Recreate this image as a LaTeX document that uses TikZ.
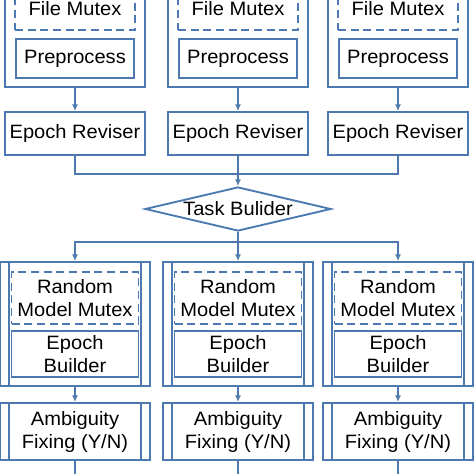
\documentclass[tikz,border=0pt]{standalone}
\usepackage{fontspec}
\setmainfont{Liberation Sans}[FakeStretch=1.04]
\usetikzlibrary{arrows.meta,shapes.geometric}

\definecolor{flowblue}{RGB}{76,122,176}

\tikzset{every picture/.style={line width=1.2pt}}
\tikzset{
  box/.style={draw=flowblue, line width=1.4pt, fill=white, inner sep=0pt, align=center,
    font=\fontsize{14.5}{17.25}\selectfont},
  dashbox/.style={box, dash pattern={on 6pt off 3.5pt}},
  barbox/.style={box, path picture={
    \draw[flowblue, line width=1.4pt]
      ([xshift=6.5pt]path picture bounding box.north west) -- ([xshift=6.5pt]path picture bounding box.south west)
      ([xshift=-6.5pt]path picture bounding box.north east) -- ([xshift=-6.5pt]path picture bounding box.south east);}},
  link/.style={draw=flowblue, line width=1.2pt},
  arr/.style={link, -{Latex[length=5pt,width=4.5pt]}}
}

\begin{document}
\begin{tikzpicture}[x=0.75pt,y=0.75pt,yscale=-1,xscale=1]
\clip (0,0) rectangle (474,474);

% upper groups
\node (grp1) [box, minimum width=105pt, minimum height=84pt] at (75,31) {};
\node (grp2) [box, minimum width=105pt, minimum height=84pt] at (238,31) {};
\node (grp3) [box, minimum width=105pt, minimum height=84pt] at (398,31) {};
\node (mtx1) [dashbox, minimum width=90pt, minimum height=31.5pt] at (75,9) {File Mutex};
\node (mtx2) [dashbox, minimum width=90pt, minimum height=31.5pt] at (238,9) {File Mutex};
\node (mtx3) [dashbox, minimum width=90pt, minimum height=31.5pt] at (398,9) {File Mutex};
\node (pre1) [box, minimum width=88.5pt, minimum height=29.25pt] at (75,58.5) {Preprocess};
\node (pre2) [box, minimum width=88.5pt, minimum height=29.25pt] at (238,58.5) {Preprocess};
\node (pre3) [box, minimum width=88.5pt, minimum height=29.25pt] at (398,58.5) {Preprocess};

% revisers
\node (rev1) [box, minimum width=105pt, minimum height=32.25pt] at (75,133.5) {Epoch Reviser};
\node (rev2) [box, minimum width=105pt, minimum height=32.25pt] at (238,133.5) {Epoch Reviser};
\node (rev3) [box, minimum width=105pt, minimum height=32.25pt] at (398,133.5) {Epoch Reviser};

% task builder
\node (task) [box, shape=diamond, aspect=4.2, minimum width=139.5pt, minimum height=33pt] at (238,209) {Task Bulider};
\coordinate (join) at (238,174);
\coordinate (fork) at (238,242);

% lower groups
\node (bld1) [barbox, minimum width=112.5pt, minimum height=93pt] at (75,324) {};
\node (bld2) [barbox, minimum width=112.5pt, minimum height=93pt] at (238,324) {};
\node (bld3) [barbox, minimum width=112.5pt, minimum height=93pt] at (398,324) {};
\node (rmm1) [dashbox, minimum width=95.25pt, minimum height=39pt] at (75,298) {Random\\Model Mutex};
\node (rmm2) [dashbox, minimum width=95.25pt, minimum height=39pt] at (238,298) {Random\\Model Mutex};
\node (rmm3) [dashbox, minimum width=95.25pt, minimum height=39pt] at (398,298) {Random\\Model Mutex};
\node (epb1) [box, minimum width=95.25pt, minimum height=34.5pt] at (75,354) {Epoch\\Builder};
\node (epb2) [box, minimum width=95.25pt, minimum height=34.5pt] at (238,354) {Epoch\\Builder};
\node (epb3) [box, minimum width=95.25pt, minimum height=34.5pt] at (398,354) {Epoch\\Builder};

% ambiguity
\node (amb1) [barbox, minimum width=112.5pt, minimum height=42.75pt] at (75,431.5) {Ambiguity\\Fixing (Y/N)};
\node (amb2) [barbox, minimum width=112.5pt, minimum height=42.75pt] at (238,431.5) {Ambiguity\\Fixing (Y/N)};
\node (amb3) [barbox, minimum width=112.5pt, minimum height=42.75pt] at (398,431.5) {Ambiguity\\Fixing (Y/N)};
\coordinate (out1) at (75,490);
\coordinate (out2) at (238,490);
\coordinate (out3) at (398,490);

% connectors
\draw [arr] (grp1.south) -- (rev1.north);
\draw [arr] (grp2.south) -- (rev2.north);
\draw [arr] (grp3.south) -- (rev3.north);
\draw [link] (rev1.south) |- (join) -| (rev3.south);
\draw [arr] (rev2.south) -- (task.north);
\draw [link] (task.south) -- (fork);
\draw [arr] (fork) -| (bld1.north);
\draw [arr] (fork) -| (bld3.north);
\draw [arr] (fork) -- (bld2.north);
\draw [arr] (bld1.south) -- (amb1.north);
\draw [arr] (bld2.south) -- (amb2.north);
\draw [arr] (bld3.south) -- (amb3.north);
\draw [link] (amb1.south) -- (out1);
\draw [link] (amb2.south) -- (out2);
\draw [link] (amb3.south) -- (out3);

\end{tikzpicture}
\end{document}
